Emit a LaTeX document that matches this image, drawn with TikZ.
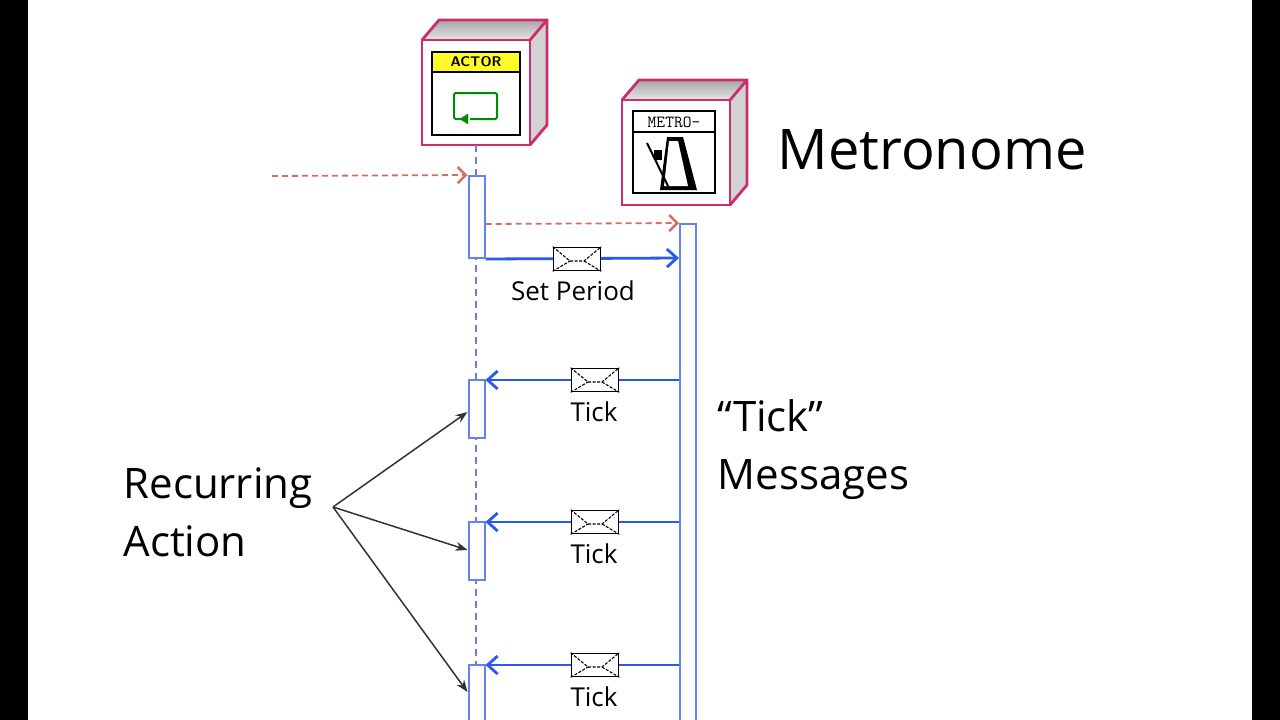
\documentclass[tikz,border=0pt]{standalone}
\usepackage{fontspec}
\setmainfont{Open Sans}
\usetikzlibrary{arrows.meta}
\definecolor{mag}{RGB}{205,45,110}
\definecolor{sblue}{RGB}{40,90,240}
\definecolor{lblue}{RGB}{100,130,240}
\definecolor{sred}{RGB}{210,110,100}
\definecolor{ygl}{RGB}{255,250,40}
\tikzset{
 act/.style={draw=lblue,line width=2pt,fill=white},
 msg/.style={draw=sblue,line width=2.8pt,-{Straight Barb[length=10pt,width=18pt]}},
 rmsg/.style={draw=sred,line width=1.8pt,dash pattern=on 6pt off 4pt,-{Straight Barb[length=8pt,width=16pt,line width=2.5pt]}},
 pt/.style={draw=black!80,line width=1.5pt,-{Stealth[length=12pt,width=9pt]}},
 lbl/.style={font=\fontsize{26}{28}\selectfont},
 big/.style={font=\fontsize{42}{58}\selectfont,align=left,anchor=west},
 env/.style={draw=black,fill=white,line width=1.6pt,minimum width=47pt,minimum height=23pt,inner sep=0pt},
}
\newcommand{\envlines}[1]{\draw[black,line width=1.1pt,dash pattern=on 3pt off 1.5pt] (#1.north west)--([xshift=-7pt,yshift=-2pt]#1.center)--([xshift=7pt,yshift=-2pt]#1.center)--(#1.north east);
 \draw[black,line width=1.1pt,dash pattern=on 3pt off 1.5pt] (#1.south west)--([xshift=-7pt,yshift=-2pt]#1.center) ([xshift=7pt,yshift=-2pt]#1.center)--(#1.south east);}
\newcommand{\cube}[4]{% x y w h
 \fill[gray!35] (#1+#3,#2)--(#1+#3+17,#2-20)--(#1+#3+17,#2+#4-20)--(#1+#3,#2+#4)--cycle;
 \shade[top color=gray!70,bottom color=gray!20] (#1,#2)--(#1+17,#2-20)--(#1+#3+17,#2-20)--(#1+#3,#2)--cycle;
 \draw[mag,line width=2.8pt] (#1,#2)--(#1+17,#2-20)--(#1+#3+17,#2-20)--(#1+#3+17,#2+#4-20)--(#1+#3,#2+#4) (#1+#3,#2)--(#1+#3+17,#2-20);
 \draw[mag,line width=2.8pt,fill=white] (#1,#2) rectangle (#1+#3,#2+#4);}
\begin{document}
\begin{tikzpicture}[x=1pt,y=-1pt]
\useasboundingbox (0,0) rectangle (1280,720);
\fill[black] (0,0) rectangle (28,720);
\fill[black] (1252,0) rectangle (1280,720);
% actor cube
\cube{422}{40}{108}{105}
\draw[black,line width=2pt,fill=white] (432,52) rectangle (520,135);
\fill[ygl] (433,53) rectangle (519,71);
\draw[black,line width=2pt] (432,72)--(520,72);
\node[font=\sffamily\bfseries\fontsize{14}{14}\selectfont] (actorlbl) at (476,62) {ACTOR};
\draw[green!55!black,line width=2pt,rounded corners=2pt] (462,119)--(454,119)--(454,93)--(497,93)--(497,119)--(470,119);
\draw[green!55!black,fill=green!55!black] (460,119)--(468,114)--(468,124)--cycle;
% metronome cube
\cube{622}{100}{108}{105}
\draw[black,line width=2pt,fill=white] (633,111) rectangle (715,193);
\draw[black,line width=1.6pt] (633,132)--(715,132);
\node[font=\ttfamily\fontsize{17}{17}\selectfont] (metrolbl) at (674,122) {METRO-};
\fill[black] (667,137)--(683,137)--(697,190)--(660,190)--cycle;
\fill[white] (669,141)--(678,141)--(688,186)--(664,186)--cycle;
\draw[black,line width=2pt] (647,143)--(668,186);
\fill[black] (654,150) rectangle (662,160);
% lifelines
\coordinate (ltop) at (476,145);
\coordinate (lbot) at (476,720);
\draw[lblue!70!gray,line width=1.6pt,dash pattern=on 7pt off 5pt] (ltop)--(lbot);
\node[act,minimum width=16pt,minimum height=82pt,inner sep=0] (a1) at (476.5,217) {};
\node[act,minimum width=16pt,minimum height=58pt,inner sep=0] (a2) at (476.5,409) {};
\node[act,minimum width=16pt,minimum height=58pt,inner sep=0] (a3) at (476.5,551) {};
\node[act,minimum width=16pt,minimum height=70pt,inner sep=0] (a4) at (476.5,700) {};
\node[act,minimum width=16pt,minimum height=510pt,inner sep=0] (m1) at (688,479) {};
% red dashed
\coordinate (rin) at (272,176);
\draw[rmsg] (rin)--(a1.north west);
\draw[rmsg] (a1.east|-0,224)--(m1.north west);
% blue messages
\draw[msg] (a1.south east)--(m1.west|-0,258);
\node[env] (e1) at (577,259) {}; \envlines{e1}
\node[lbl] (sp) at (573,291) {Set Period};
\foreach \y/\a/\n in {380/a2/2,522/a3/3,665/a4/4}{
 \draw[msg] (m1.west|-0,\y)--(\a.east|-0,\y);
 \node[env] (e\n) at (595,\y) {}; \envlines{e\n}
 \node[lbl] (t\n) at (594,\y+32) {Tick};
}
% labels
\node[big,font=\fontsize{56}{60}\selectfont] (metro) at (774,150) {Metronome};
\node[big] (ticks) at (714,450) {“Tick”\\Messages};
\node[big] (rec) at (120,512) {Recurring\\Action};
\coordinate (fan) at (333,507);
\draw[pt] (fan)--(a2.south west|-0,412);
\draw[pt] (fan)--(a3.west|-0,550);
\draw[pt] (fan)--(a4.west|-0,692);
\end{tikzpicture}
\end{document}
